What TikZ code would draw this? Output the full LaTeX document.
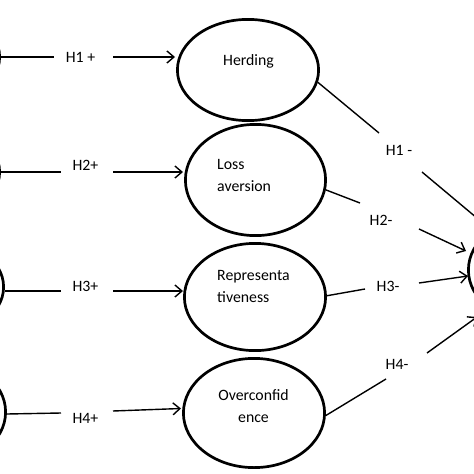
\documentclass[tikz,border=0pt]{standalone}
\usepackage{fontspec}
\setmainfont{Carlito}
\usetikzlibrary{shapes.geometric,arrows.meta}
\begin{document}
\begin{tikzpicture}[x=1pt,y=-1pt,
  oval/.style={ellipse,draw,line width=2.7pt,minimum width=141.2pt,minimum height=#1,inner sep=0pt},
  conn/.style={line width=1.4pt},
  arr/.style={conn,-{Straight Barb[length=7pt,width=12pt]}},
  lab/.style={inner sep=0pt,font=\fontsize{15.8}{22}\selectfont}]
\useasboundingbox (0,0) rectangle (474,474);
\clip (0,0) rectangle (474,474);
% off-image ovals
\node[oval=100pt] (L1) at (-71,57) {};
\node[oval=100pt] (L2) at (-71,172) {};
\node[oval=100pt] (L3) at (-67,287) {};
\node[oval=108pt] (L4) at (-65,412) {};
\node[oval=108pt] (P) at (539,270) {};
% middle ovals
\node[oval=101.2pt] (E1) at (248,70) {};
\node[oval=111.2pt,minimum width=140.2pt] (E2) at (255.5,180) {};
\node[oval=107.2pt] (E3) at (255,297) {};
\node[oval=109.2pt] (E4) at (254,413) {};
% oval texts
\node[lab,anchor=base] (T1) at (248.5,65) {Herding};
\node[lab,anchor=base west,align=left] (T2) at (217,191.5) {Loss\\aversion};
\node[lab,anchor=base west,align=left] (T3) at (217,302.5) {Representa\\tiveness};
\node[lab,anchor=base,align=center] (T4) at (253.5,422) {Overconfid\\ence};
% left labels
\node[lab] (a1) at (80.5,57) {H1 +};
\node[lab] (a2) at (85.5,165) {H2+};
\node[lab] (a3) at (85.5,286) {H3+};
\node[lab] (a4) at (85.5,418) {H4+};
% right labels
\node[lab] (b1) at (399,150) {H1 -};
\node[lab] (b2) at (381,220) {H2-};
\node[lab] (b3) at (388,286) {H3-};
\node[lab] (b4) at (397,364) {H4-};
% left connectors
\coordinate (p1) at (54,57);   \coordinate (q1) at (113,57);  \coordinate (t1) at (175,57);
\coordinate (p2) at (61,172);  \coordinate (q2) at (113,172); \coordinate (t2) at (183,172);
\coordinate (p3) at (61,291);  \coordinate (q3) at (113,291); \coordinate (t3) at (183,291);
\coordinate (p4) at (61,413);  \coordinate (q4) at (113,411); \coordinate (t4) at (181,408.5);
\draw[conn] (L1.east) -- (p1); \draw[arr] (q1) -- (t1);
\draw[conn] (L2.east) -- (p2); \draw[arr] (q2) -- (t2);
\draw[conn] (L3.east |- p3) -- (p3); \draw[arr] (q3) -- (t3);
\draw[conn] (L4.east |- 0,414) -- (p4); \draw[arr] (q4) -- (t4);
% right connectors
\coordinate (m1) at (379,133); \coordinate (n1) at (422,172);
\coordinate (m2) at (360,203); \coordinate (n2) at (419,229); \coordinate (u2) at (466,251);
\coordinate (m3) at (365,289); \coordinate (n3) at (419,283); \coordinate (u3) at (468,276);
\coordinate (m4) at (386,379); \coordinate (n4) at (427,353); \coordinate (u4) at (477,317);
\draw[conn] (E1.-10) -- (m1); \draw[arr] (n1) -- (P);
\draw[conn] (E2.-8.5) -- (m2); \draw[arr] (n2) -- (u2);
\draw[conn] (E3.1.6) -- (m3); \draw[arr] (n3) -- (u3);
\draw[conn] (E4.-2.4) -- (m4); \draw[arr] (n4) -- (u4);
\end{tikzpicture}
\end{document}
